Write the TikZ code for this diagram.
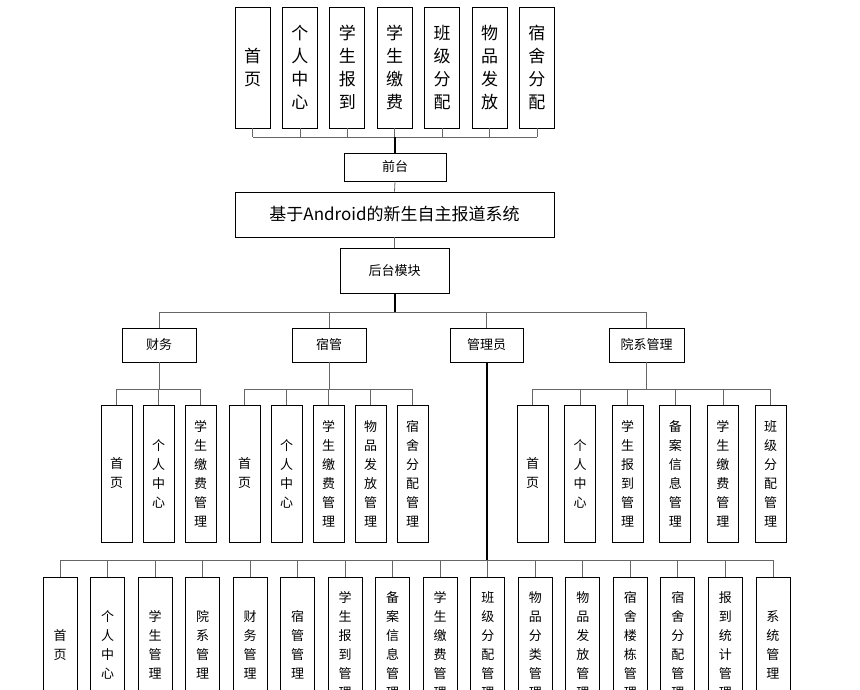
\documentclass[tikz,border=0pt]{standalone}
\usepackage{fontspec}
\newfontfamily\cjk{Noto Sans CJK SC}
\begin{document}
\begin{tikzpicture}[x=1pt,y=-1pt,
  bx/.style={draw=black,line width=0.8pt,fill=white,inner sep=0pt,font=\cjk},
  ln/.style={draw=black!60,line width=0.8pt},
  tk/.style={draw=black,line width=2pt}]
\useasboundingbox (0,0) rectangle (860,690);
\clip (0,0) rectangle (860,690);
% top
\foreach \i/\t in {0/首\\页,1/个\\人\\中\\心,2/学\\生\\报\\到,3/学\\生\\缴\\费,4/班\\级\\分\\配,5/物\\品\\发\\放,6/宿\\舍\\分\\配}{
  \node[bx,minimum width=35pt,minimum height=121pt,font=\cjk\fontsize{17}{23}\selectfont,align=center] (t\i) at (252.5+47.4*\i,67.5) {\t};
  \draw[ln] (t\i.south) -- (252.5+47.4*\i,137);
}
\draw[ln] (252.5,137) -- (537,137);
\node[bx,minimum width=102pt,minimum height=28pt,font=\cjk\fontsize{13}{15}\selectfont] (qt) at (395,167) {前台};
\coordinate (qb) at (395,137);
\draw[tk] (qb) -- (qt.north);
\node[bx,minimum width=319pt,minimum height=45pt,font=\cjk\fontsize{17}{20}\selectfont] (main) at (394.5,214.5) {基于Android的新生自主报道系统};
\node[bx,minimum width=109pt,minimum height=45pt,font=\cjk\fontsize{13}{15}\selectfont] (ht) at (394.5,270.5) {后台模块};
\draw[ln] (qt.south) -- (main.north);
\draw[ln] (main.south) -- (ht.north);
\coordinate (hb) at (394.5,312);
\draw[tk] (ht.south) -- (hb);
\draw[ln] (159,312) -- (647,312);
% level 2
\foreach \n/\x/\w/\t in {cw/159/74/财务,sg/329/74/宿管,gl/486.5/73/管理员,yx/646.5/75/院系管理}{
  \node[bx,minimum width=\w pt,minimum height=34pt,font=\cjk\fontsize{13}{15}\selectfont] (\n) at (\x,345) {\t};
  \draw[ln] (\x,312) -- (\n.north);
}
% level 3
\tikzset{l3/.style={bx,minimum width=31pt,minimum height=137pt,font=\cjk\fontsize{13}{19}\selectfont,align=center}}
\foreach \i/\t in {0/首\\页,1/个\\人\\中\\心,2/学\\生\\缴\\费\\管\\理}{
  \node[l3] (a\i) at (116.5+42*\i,473.5) {\t};
  \draw[ln] (a\i.north) -- (116.5+42*\i,389);}
\draw[ln] (116.5,389) -- (200.5,389); \draw[ln] (cw.south) -- (159,389);
\foreach \i/\t in {0/首\\页,1/个\\人\\中\\心,2/学\\生\\缴\\费\\管\\理,3/物\\品\\发\\放\\管\\理,4/宿\\舍\\分\\配\\管\\理}{
  \node[l3] (b\i) at (244.5+42*\i,473.5) {\t};
  \draw[ln] (b\i.north) -- (244.5+42*\i,389);}
\draw[ln] (244.5,389) -- (412.5,389); \draw[ln] (sg.south) -- (329,389);
\foreach \i/\t in {0/首\\页,1/个\\人\\中\\心,2/学\\生\\报\\到\\管\\理,3/备\\案\\信\\息\\管\\理,4/学\\生\\缴\\费\\管\\理,5/班\\级\\分\\配\\管\\理}{
  \node[l3] (c\i) at (532.5+47.6*\i,473.5) {\t};
  \draw[ln] (c\i.north) -- (532.5+47.6*\i,389);}
\draw[ln] (532.5,389) -- (770.5,389); \draw[ln] (yx.south) -- (646.5,389);
% bottom
\coordinate (gb) at (486.5,560);
\draw[tk] (gl.south) -- (gb);
\draw[ln] (60,560) -- (773,560);
\foreach \i/\t in {0/首\\页,1/个\\人\\中\\心,2/学\\生\\管\\理,3/院\\系\\管\\理,4/财\\务\\管\\理,5/宿\\管\\管\\理,6/学\\生\\报\\到\\管\\理,7/备\\案\\信\\息\\管\\理,8/学\\生\\缴\\费\\管\\理,9/班\\级\\分\\配\\管\\理,10/物\\品\\分\\类\\管\\理,11/物\\品\\发\\放\\管\\理,12/宿\\舍\\楼\\栋\\管\\理,13/宿\\舍\\分\\配\\管\\理,14/报\\到\\统\\计\\管\\理,15/系\\统\\管\\理}{
  \node[bx,minimum width=34pt,minimum height=136pt,font=\cjk\fontsize{13}{19}\selectfont,align=center] (d\i) at (60+47.53*\i,645) {\t};
  \draw[ln] (d\i.north) -- (60+47.53*\i,560);}
\end{tikzpicture}
\end{document}
